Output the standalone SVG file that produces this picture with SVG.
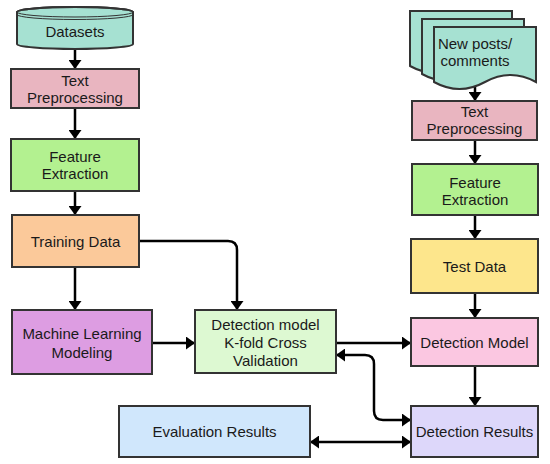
<svg xmlns="http://www.w3.org/2000/svg" width="550" height="464" viewBox="0 0 550 464">
<defs>
<marker id="ah" viewBox="0 0 9 13" refX="9" refY="6.5" markerWidth="9" markerHeight="13" markerUnits="userSpaceOnUse" orient="auto-start-reverse">
<path d="M0,0 L9,6.5 L0,13 Z" fill="#000"/>
</marker>
<style>
.box{stroke:#333;stroke-width:2}
.t{font-family:"Liberation Sans",Arial,sans-serif;font-size:15px;fill:#1a1a1a;text-anchor:middle}
.c{fill:none;stroke:#000;stroke-width:2.5;marker-end:url(#ah)}
.cc{fill:none;stroke:#000;stroke-width:2.5;marker-end:url(#ah);marker-start:url(#ah)}
.thin{fill:none;stroke:#333;stroke-width:1}
</style>
</defs>
<rect width="550" height="464" fill="#fff"/>

<g id="connectors">
<path class="c" d="M75,50 V69"/>
<path class="c" d="M75,108 V139"/>
<path class="c" d="M75,191 V215"/>
<path class="c" d="M75,267 V310"/>
<path class="c" d="M139,241 H228 Q237,241 237,250 V310"/>
<path class="c" d="M152,343 H195"/>
<path class="c" d="M336,343 H411"/>
<path class="cc" d="M411,420 H383 Q374,420 374,411 V364 Q374,355 365,355 H336"/>
<path class="cc" d="M310,442 H411"/>
<path class="c" d="M475,86 V101"/>
<path class="c" d="M475,140 V164"/>
<path class="c" d="M475,215 V239"/>
<path class="c" d="M475,293 V318"/>
<path class="c" d="M475,366 V406"/>
</g>

<g id="datasets">
<path class="box" fill="#A6E1D2" d="M17,12 A58,5 0 0 1 133,12 V44 A58,5 0 0 1 17,44 Z"/>
<path class="thin" d="M17,12 A58,5 0 0 0 133,12"/>
<path class="thin" d="M17,14.5 A58,5 0 0 0 133,14.5"/>
<path class="box" fill="none" d="M17,12 A58,5 0 0 1 133,12"/>
<text class="t" x="75" y="37">Datasets</text>
</g>

<g id="text-preprocessing-left">
<rect class="box" x="11" y="69" width="128" height="39" fill="#E9B5C0"/>
<text class="t" x="75" y="85.5">Text</text>
<text class="t" x="75" y="103">Preprocessing</text>
</g>

<g id="feature-extraction-left">
<rect class="box" x="11" y="139" width="128" height="52" fill="#B3F190"/>
<text class="t" x="75" y="161.5">Feature</text>
<text class="t" x="75" y="178.5">Extraction</text>
</g>

<g id="training-data">
<rect class="box" x="12" y="215" width="127" height="52" fill="#FBC99A"/>
<text class="t" x="75.5" y="246.5">Training Data</text>
</g>

<g id="ml-modeling">
<rect class="box" x="12" y="310" width="140" height="64" fill="#DD9DE2"/>
<text class="t" x="82" y="338.5">Machine Learning</text>
<text class="t" x="82" y="357.5">Modeling</text>
</g>

<g id="kfold">
<rect class="box" x="195" y="310" width="141" height="63" fill="#DDF9D2"/>
<text class="t" x="265.5" y="329.5">Detection model</text>
<text class="t" x="265.5" y="347.5">K-fold Cross</text>
<text class="t" x="265.5" y="365.5">Validation</text>
</g>

<g id="new-posts">
<path class="box" fill="#A6E1D2" d="M410,11 H512 V66 Q486.5,52 461,66 Q435.5,80 410,66 Z"/>
<path class="box" fill="#A6E1D2" d="M422,19 H524 V74 Q498.5,60 473,74 Q447.5,88 422,74 Z"/>
<path class="box" fill="#A6E1D2" d="M434,27 H536 V82 Q510.5,68 485,82 Q459.5,96 434,82 Z"/>
<text class="t" x="475" y="48.5">New posts/</text>
<text class="t" x="475" y="65.5">comments</text>
</g>

<g id="text-preprocessing-right">
<rect class="box" x="412" y="101" width="125" height="39" fill="#E9B5C0"/>
<text class="t" x="474.5" y="116.5">Text</text>
<text class="t" x="474.5" y="133.5">Preprocessing</text>
</g>

<g id="feature-extraction-right">
<rect class="box" x="412" y="164" width="126" height="51" fill="#B3F190"/>
<text class="t" x="475" y="187.5">Feature</text>
<text class="t" x="475" y="204.5">Extraction</text>
</g>

<g id="test-data">
<rect class="box" x="411" y="239" width="127" height="54" fill="#FDE68C"/>
<text class="t" x="474.5" y="271.5">Test Data</text>
</g>

<g id="detection-model">
<rect class="box" x="411" y="318" width="127" height="48" fill="#FBC7E1"/>
<text class="t" x="474.5" y="347.5">Detection Model</text>
</g>

<g id="detection-results">
<rect class="box" x="411" y="406" width="127" height="51" fill="#DDD7FA"/>
<text class="t" x="474.5" y="437">Detection Results</text>
</g>

<g id="evaluation-results">
<rect class="box" x="119" y="406" width="191" height="51" fill="#D0E7FC"/>
<text class="t" x="214.5" y="437">Evaluation Results</text>
</g>
</svg>
